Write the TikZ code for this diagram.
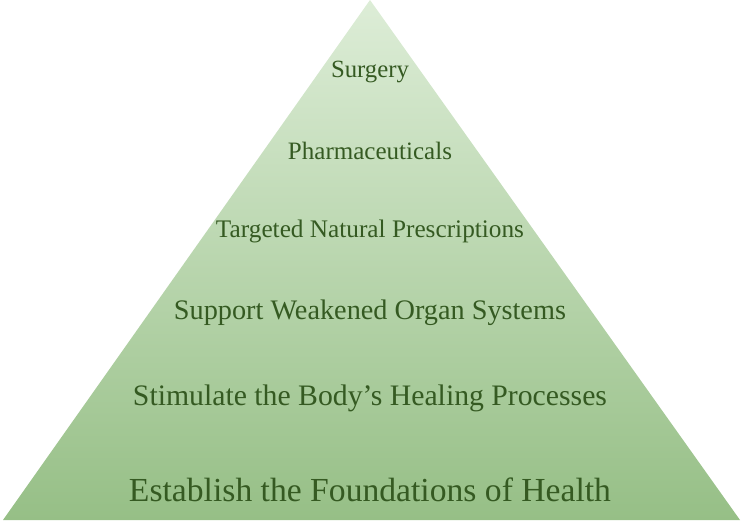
\documentclass[tikz,border=0pt]{standalone}
\usepackage{fontspec}
\setmainfont{Liberation Serif}
\definecolor{topg}{HTML}{DDEDD7}
\definecolor{botg}{HTML}{96BF86}
\definecolor{txtg}{HTML}{355A22}
\newcommand{\fitw}[2]{\resizebox{#1}{!}{#2}}
\tikzset{lvl/.style={text=txtg, inner sep=0pt, anchor=center}}
\begin{document}
\begin{tikzpicture}[x=1pt,y=-1pt]
\useasboundingbox (0,0) rectangle (743,527);
\shade[top color=topg, bottom color=botg] (370,0) -- (740,520) -- (3,520) -- cycle;
\node[lvl] (l1) at (370,72) {\fitw{78pt}{Surgery}};
\node[lvl] (l2) at (370,151) {\fitw{164pt}{Pharmaceuticals}};
\node[lvl] (l3) at (370,231) {\fitw{308pt}{Targeted Natural Prescriptions}};
\node[lvl] (l4) at (370,313) {\fitw{392pt}{Support Weakened Organ Systems}};
\node[lvl] (l5) at (370,398) {\fitw{474pt}{Stimulate the Body’s Healing Processes}};
\node[lvl] (l6) at (370,490) {\fitw{482pt}{Establish the Foundations of Health}};
\end{tikzpicture}
\end{document}
